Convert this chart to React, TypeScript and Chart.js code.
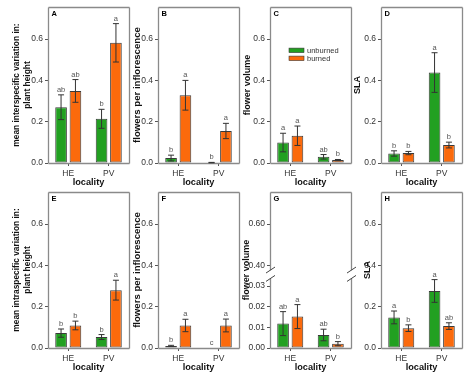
import { useEffect, useRef } from 'react';
import { Chart, registerables } from 'chart.js';

Chart.register(...registerables);

// ---------- data ----------
const categories = ['HE', 'PV'];
const seriesNames = ['unburned', 'burned'];
const panelLetters = ['A', 'B', 'C', 'D', 'E', 'F', 'G', 'H'];

// y-axis titles (one array of lines per panel)
const yTitles: string[][] = [
  ['mean interspecific variation in:', 'plant height'],
  ['flowers per inflorescence'],
  ['flower volume'],
  ['SLA'],
  ['mean intraspecific variation in:', 'plant height'],
  ['flowers per inflorescence'],
  ['flower volume'],
  ['SLA'],
];
const xTitle = 'locality';

// means per panel [HE, PV]
const unburnedMeans: number[][] = [
  [0.27, 0.214],
  [0.024, 0.002],
  [0.099, 0.03],
  [0.046, 0.438],
  [0.072, 0.053],
  [0.01, 0],
  [0.0118, 0.0063],
  [0.148, 0.276],
];
const burnedMeans: number[][] = [
  [0.349, 0.582],
  [0.328, 0.155],
  [0.132, 0.014],
  [0.048, 0.087],
  [0.109, 0.28],
  [0.109, 0.109],
  [0.0152, 0.0021],
  [0.096, 0.106],
];
// standard errors
const unburnedErr: number[][] = [
  [0.06, 0.046],
  [0.014, 0.001],
  [0.045, 0.011],
  [0.013, 0.096],
  [0.02, 0.012],
  [0.003, 0],
  [0.0058, 0.0028],
  [0.031, 0.055],
];
const burnedErr: number[][] = [
  [0.055, 0.093],
  [0.072, 0.037],
  [0.047, 0.003],
  [0.008, 0.014],
  [0.021, 0.048],
  [0.03, 0.031],
  [0.0058, 0.001],
  [0.016, 0.016],
];
// significance letters
const unburnedSig: string[][] = [
  ['ab', 'b'], ['b', 'b'], ['a', 'ab'], ['b', 'a'],
  ['b', 'b'], ['b', 'c'], ['ab', 'ab'], ['a', 'a'],
];
const burnedSig: string[][] = [
  ['ab', 'a'], ['a', 'a'], ['a', 'b'], ['b', 'b'],
  ['b', 'a'], ['a', 'a'], ['a', 'b'], ['b', 'ab'],
];

// tick labels
const yTickValues = [0, 0.2, 0.4, 0.6];
const gTickValues = [0, 0.01, 0.02, 0.03, 0.04, 0.06];
const gTickLabels = ['0.00', '0.01', '0.02', '0.03', '0.40', '0.60'];
const yMaxStd = 0.755;
const yMaxG = 0.0755;
const gBreakValue = 0.0357;

// ---------- layout / style ----------
const W = 474;
const H = 381;
const FRAME_LEFTS = [48, 158, 270, 381];
const FRAME_W = 81;
const ROW_TOPS = [6, 192];
const ROW_BOTTOMS = [163, 348];
const TITLE_X: number[][] = [[17, 28], [137], [248], [358], [17, 28], [137], [247], [368]];
const TITLE_SIZE = [8.4, 9.6, 9, 9, 8.4, 9.6, 9, 9];
const Y_AXIS_W = 26;
const X_AXIS_H = 16;

const GREEN = '#22a021';
const ORANGE = '#fb6a0c';
const EDGE = '#3a3a3a';
const FRAME = '#8a8a8a';
const TICK = '#555555';
const FONT = "'Liberation Sans', Arial, sans-serif";

function decorPlugin(i: number) {
  return {
    id: 'decor' + i,
    beforeDatasetsDraw(chart: any) {
      const { ctx, chartArea: a } = chart;
      const yS = chart.scales.y;
      ctx.save();
      ctx.strokeStyle = FRAME;
      ctx.lineWidth = 1.3;
      const L = Math.round(a.left) + 0.5;
      const R = Math.round(a.right) + 0.5;
      const T = Math.round(a.top) + 0.5;
      const B = Math.round(a.bottom) + 0.5;
      ctx.beginPath();
      ctx.moveTo(L, T);
      ctx.lineTo(R, T);
      ctx.moveTo(L, B);
      ctx.lineTo(R, B);
      if (i === 6) {
        const yc = yS.getPixelForValue(gBreakValue);
        for (const x of [L, R]) {
          ctx.moveTo(x, T);
          ctx.lineTo(x, yc - 4);
          ctx.moveTo(x, yc + 4);
          ctx.lineTo(x, B);
        }
      } else {
        ctx.moveTo(L, T);
        ctx.lineTo(L, B);
        ctx.moveTo(R, T);
        ctx.lineTo(R, B);
      }
      ctx.stroke();
      if (i === 6) {
        const yc = yS.getPixelForValue(gBreakValue);
        ctx.strokeStyle = '#444';
        ctx.lineWidth = 1;
        ctx.beginPath();
        for (const x of [L, R]) {
          for (const dy of [-4.2, 4.2]) {
            ctx.moveTo(x - 4.5, yc + dy + 3);
            ctx.lineTo(x + 4.5, yc + dy - 3);
          }
        }
        ctx.stroke();
      }
      ctx.restore();
    },
    afterDatasetsDraw(chart: any) {
      const { ctx, chartArea: a } = chart;
      const yS = chart.scales.y;
      ctx.save();
      // error bars + significance letters
      const means = [unburnedMeans[i], burnedMeans[i]];
      const errs = [unburnedErr[i], burnedErr[i]];
      const sigs = [unburnedSig[i], burnedSig[i]];
      for (let d = 0; d < 2; d++) {
        const meta = chart.getDatasetMeta(d);
        meta.data.forEach((el: any, k: number) => {
          const v = means[d][k];
          const e = errs[d][k];
          const x = el.x;
          const yTop = yS.getPixelForValue(v + e);
          if (e > 0) {
            const yBot = yS.getPixelForValue(Math.max(v - e, 0));
            ctx.strokeStyle = '#333';
            ctx.lineWidth = 1;
            ctx.beginPath();
            ctx.moveTo(x, yTop);
            ctx.lineTo(x, yBot);
            ctx.moveTo(x - 3, yTop);
            ctx.lineTo(x + 3, yTop);
            ctx.moveTo(x - 3, yBot);
            ctx.lineTo(x + 3, yBot);
            ctx.stroke();
          }
          ctx.fillStyle = '#555';
          ctx.font = `7.5px ${FONT}`;
          ctx.textAlign = 'center';
          ctx.textBaseline = 'alphabetic';
          ctx.fillText(sigs[d][k], x, yTop - 3);
        });
      }
      // panel letter
      ctx.fillStyle = '#000';
      ctx.font = `bold 7.5px ${FONT}`;
      ctx.textAlign = 'left';
      ctx.textBaseline = 'alphabetic';
      ctx.fillText(panelLetters[i], a.left + 3.5, a.top + 9);
      // x title
      ctx.font = `bold 9.2px ${FONT}`;
      ctx.fillStyle = '#111';
      ctx.textAlign = 'center';
      ctx.textBaseline = 'middle';
      ctx.fillText(xTitle, (a.left + a.right) / 2, a.bottom + 19.5);
      // y title
      const yc = (a.top + a.bottom) / 2;
      ctx.font = `bold ${TITLE_SIZE[i]}px ${FONT}`;
      yTitles[i].forEach((line, li) => {
        ctx.save();
        ctx.translate(TITLE_X[i][li], yc);
        ctx.rotate(-Math.PI / 2);
        ctx.fillText(line, 0, 0);
        ctx.restore();
      });
      // legend (panel C)
      if (i === 2) {
        const colors = [GREEN, ORANGE];
        seriesNames.forEach((name, s) => {
          const sy = a.top + 41 + s * 8;
          ctx.fillStyle = colors[s];
          ctx.fillRect(a.left + 19, sy, 15, 4.5);
          ctx.strokeStyle = EDGE;
          ctx.lineWidth = 0.6;
          ctx.strokeRect(a.left + 19, sy, 15, 4.5);
          ctx.fillStyle = '#333';
          ctx.font = `7.5px ${FONT}`;
          ctx.textAlign = 'left';
          ctx.textBaseline = 'middle';
          ctx.fillText(name, a.left + 37, sy + 2.5);
        });
      }
      ctx.restore();
    },
  };
}

function buildConfig(i: number): any {
  const col = i % 4;
  const row = Math.floor(i / 4);
  const left = FRAME_LEFTS[col];
  const right = left + FRAME_W;
  const top = ROW_TOPS[row];
  const bottom = ROW_BOTTOMS[row];
  const isG = i === 6;
  const tickVals = isG ? gTickValues : yTickValues;
  const tickFont = { family: FONT, size: 8.5 };
  return {
    type: 'bar',
    data: {
      labels: categories,
      datasets: [
        {
          label: seriesNames[0],
          data: unburnedMeans[i],
          backgroundColor: GREEN,
          borderColor: EDGE,
          borderWidth: 1,
          borderSkipped: false,
          categoryPercentage: 0.71,
          barPercentage: 0.81,
        },
        {
          label: seriesNames[1],
          data: burnedMeans[i],
          backgroundColor: ORANGE,
          borderColor: EDGE,
          borderWidth: 1,
          borderSkipped: false,
          categoryPercentage: 0.71,
          barPercentage: 0.81,
        },
      ],
    },
    options: {
      responsive: false,
      animation: false,
      devicePixelRatio: 1,
      events: [],
      layout: {
        padding: {
          left: left - Y_AXIS_W,
          top: top,
          right: W - right,
          bottom: H - bottom - X_AXIS_H,
        },
      },
      plugins: {
        legend: { display: false },
        tooltip: { enabled: false },
        title: { display: false },
      },
      scales: {
        x: {
          type: 'category',
          offset: true,
          border: { display: false },
          grid: { offset: false, drawOnChartArea: false, tickLength: 3, color: TICK },
          ticks: { font: tickFont, color: '#333', padding: 2.5, maxRotation: 0, autoSkip: false },
          afterFit: (s: any) => {
            s.height = X_AXIS_H;
          },
        },
        y: {
          type: 'linear',
          min: 0,
          max: isG ? yMaxG : yMaxStd,
          border: { display: false },
          grid: { drawOnChartArea: false, tickLength: 3, color: TICK },
          ticks: {
            font: tickFont,
            color: '#333',
            padding: 2,
            callback: (v: any, idx: number) =>
              isG ? gTickLabels[idx] : Number(v).toFixed(1),
          },
          afterBuildTicks: (s: any) => {
            s.ticks = tickVals.map((v) => ({ value: v }));
          },
          afterFit: (s: any) => {
            s.width = Y_AXIS_W;
          },
        },
      },
    },
    plugins: [decorPlugin(i)],
  };
}

export default function App() {
  const refs = useRef<(HTMLCanvasElement | null)[]>([]);
  useEffect(() => {
    const charts = panelLetters.map((_, i) => new Chart(refs.current[i] as HTMLCanvasElement, buildConfig(i)));
    return () => charts.forEach((c) => c.destroy());
  }, []);
  return (
    <div style={{ position: 'absolute', left: 0, top: 0, width: W, height: H, background: '#fff' }}>
      {panelLetters.map((l, i) => (
        <canvas
          key={l}
          ref={(el) => {
            refs.current[i] = el;
          }}
          width={W}
          height={H}
          style={{ position: 'absolute', left: 0, top: 0, width: W, height: H }}
        />
      ))}
    </div>
  );
}
